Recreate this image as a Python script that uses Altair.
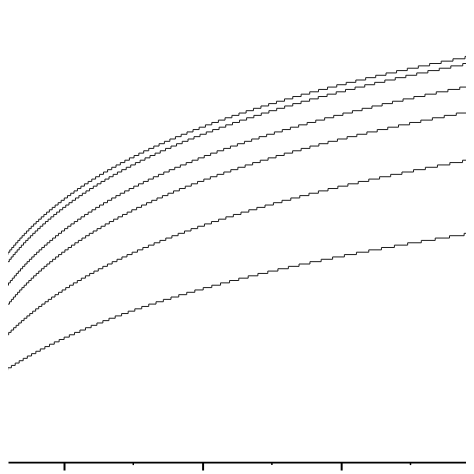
import altair as alt
import pandas as pd

# Step curves: each curve is a cumulative count; the count rises by one at every listed time.
c1_start = 84
c1_times = [10.63, 10.88, 11.13, 11.38, 11.64, 11.91, 12.18, 12.46, 12.75, 13.04, 13.34, 13.64, 13.95, 14.27,
            14.60, 14.93, 15.27, 15.62, 15.98, 16.35, 16.72, 17.10, 17.49, 17.89, 18.30, 18.72, 19.15,
            19.59, 20.04, 20.50, 20.97, 21.45, 21.94, 22.44, 22.95, 23.48, 24.01, 24.56, 25.13, 25.70,
            26.29, 26.89, 27.51, 28.13, 28.78, 29.44, 30.11, 30.80, 31.50, 32.23, 32.96, 33.72, 34.49,
            35.28, 36.08, 36.91, 37.75, 38.62, 39.50, 40.41, 41.33, 42.28, 43.24, 44.23, 45.25, 46.28,
            47.34, 48.42, 49.53, 50.66, 51.82, 53.01, 54.22, 55.46, 56.73, 58.03, 59.36, 60.72, 62.11,
            63.53, 64.98, 66.47, 67.99, 69.54, 71.13, 72.76, 74.43, 76.13, 77.87, 79.65]

c2_start = 80
c2_times = [10.59, 10.83, 11.07, 11.32, 11.58, 11.84, 12.11, 12.38, 12.66, 12.95, 13.24, 13.54, 13.85, 14.16,
            14.48, 14.81, 15.15, 15.49, 15.84, 16.20, 16.56, 16.94, 17.32, 17.71, 18.11, 18.52, 18.94,
            19.37, 19.81, 20.26, 20.72, 21.18, 21.66, 22.15, 22.65, 23.17, 23.69, 24.23, 24.78, 25.34,
            25.91, 26.50, 27.09, 27.71, 28.33, 28.98, 29.63, 30.30, 30.99, 31.69, 32.41, 33.14, 33.89,
            34.65, 35.44, 36.24, 37.06, 37.90, 38.76, 39.63, 40.53, 41.45, 42.38, 43.34, 44.32, 45.33,
            46.35, 47.40, 48.47, 49.57, 50.69, 51.84, 53.01, 54.21, 55.44, 56.69, 57.97, 59.28, 60.62,
            62.00, 63.40, 64.83, 66.30, 67.80, 69.33, 70.90, 72.51, 74.15, 75.82, 77.54, 79.29]

c3_start = 71
c3_times = [10.72, 10.96, 11.21, 11.47, 11.73, 11.99, 12.26, 12.54, 12.83, 13.12, 13.41, 13.72, 14.03, 14.35,
            14.67, 15.01, 15.35, 15.69, 16.05, 16.41, 16.79, 17.17, 17.56, 17.95, 18.36, 18.78, 19.20,
            19.64, 20.08, 20.54, 21.00, 21.48, 21.97, 22.46, 22.97, 23.49, 24.03, 24.57, 25.13, 25.70,
            26.28, 26.88, 27.49, 28.11, 28.75, 29.40, 30.07, 30.75, 31.45, 32.16, 32.89, 33.63, 34.40,
            35.18, 35.98, 36.79, 37.63, 38.48, 39.35, 40.24, 41.16, 42.09, 43.04, 44.02, 45.02, 46.04,
            47.08, 48.15, 49.24, 50.36, 51.50, 52.67, 53.86, 55.08, 56.33, 57.61, 58.92, 60.25, 61.62,
            63.02, 64.44, 65.91, 67.40, 68.93, 70.49, 72.09, 73.72, 75.40, 77.11, 78.86]

c4_start = 62
c4_times = [10.56, 10.81, 11.06, 11.32, 11.58, 11.85, 12.13, 12.41, 12.70, 12.99, 13.30, 13.61, 13.92, 14.25,
            14.58, 14.92, 15.27, 15.62, 15.99, 16.36, 16.74, 17.13, 17.53, 17.94, 18.36, 18.79, 19.22,
            19.67, 20.13, 20.60, 21.08, 21.57, 22.07, 22.59, 23.12, 23.65, 24.21, 24.77, 25.35, 25.94,
            26.54, 27.16, 27.79, 28.44, 29.11, 29.78, 30.48, 31.19, 31.91, 32.66, 33.42, 34.20, 35.00,
            35.81, 36.65, 37.50, 38.37, 39.27, 40.18, 41.12, 42.08, 43.06, 44.07, 45.09, 46.14, 47.22,
            48.32, 49.45, 50.60, 51.78, 52.99, 54.22, 55.49, 56.78, 58.10, 59.46, 60.85, 62.26, 63.71,
            65.20, 66.72, 68.27, 69.87, 71.49, 73.16, 74.87, 76.61, 78.40]

c5_start = 51
c5_times = [10.70, 11.02, 11.35, 11.68, 12.02, 12.37, 12.73, 13.09, 13.47, 13.85, 14.24, 14.65, 15.06, 15.48,
            15.91, 16.35, 16.80, 17.26, 17.73, 18.21, 18.70, 19.21, 19.73, 20.25, 20.80, 21.35, 21.92,
            22.50, 23.09, 23.70, 24.32, 24.95, 25.60, 26.27, 26.95, 27.65, 28.36, 29.09, 29.83, 30.60,
            31.38, 32.18, 33.00, 33.84, 34.69, 35.57, 36.47, 37.39, 38.33, 39.29, 40.27, 41.28, 42.31,
            43.36, 44.44, 45.54, 46.67, 47.83, 49.01, 50.22, 51.46, 52.73, 54.02, 55.35, 56.71, 58.10,
            59.52, 60.97, 62.46, 63.98, 65.54, 67.14, 68.77, 70.44, 72.15, 73.89, 75.68, 77.51, 79.39]

c6_start = 37
c6_times = [10.33, 10.83, 11.35, 11.87, 12.41, 12.96, 13.53, 14.11, 14.71, 15.32, 15.94, 16.58, 17.24, 17.91,
            18.60, 19.30, 20.02, 20.77, 21.52, 22.30, 23.10, 23.92, 24.75, 25.61, 26.49, 27.39, 28.31,
            29.26, 30.22, 31.22, 32.23, 33.28, 34.34, 35.44, 36.56, 37.71, 38.88, 40.09, 41.33, 42.59,
            43.89, 45.22, 46.58, 47.98, 49.41, 50.87, 52.38, 53.92, 55.49, 57.11, 58.76, 60.46, 62.20,
            63.98, 65.81, 67.68, 69.59, 71.56, 73.57, 75.63, 77.74, 79.91]

major_ticks = [20, 40, 60]
minor_ticks = [30, 50, 70]
x_domain = [11.92, 78.01]
y_domain = [0, 190.83]

curves = [("c1", c1_start, c1_times), ("c2", c2_start, c2_times), ("c3", c3_start, c3_times),
          ("c4", c4_start, c4_times), ("c5", c5_start, c5_times), ("c6", c6_start, c6_times)]
rows = []
for name, start, times in curves:
    for i, t in enumerate(times):
        rows.append({"curve": name, "t": t, "n": start + i})
df = pd.DataFrame(rows)

lines = alt.Chart(df).mark_line(
    interpolate="step-after", color="#1a1a1a", strokeWidth=1, clip=True
).encode(
    x=alt.X("t:Q", scale=alt.Scale(domain=x_domain, nice=False, zero=False),
            axis=alt.Axis(values=major_ticks, labels=False, title=None, grid=False,
                          domainColor="black", domainWidth=2, tickColor="black",
                          tickWidth=2, tickSize=8)),
    y=alt.Y("n:Q", scale=alt.Scale(domain=y_domain, nice=False), axis=None),
    detail="curve:N",
)

minor = alt.Chart(pd.DataFrame({"t": minor_ticks})).mark_rule(
    color="black", strokeWidth=1.5
).encode(
    x="t:Q",
    y=alt.value(458),
    y2=alt.value(461),
)

chart = alt.layer(lines, minor).properties(
    width=466, height=458, padding={"left": 0, "top": 0, "right": 0, "bottom": 0}
).configure_view(strokeWidth=0)

chart.save("out.html", embed_options={"renderer": "svg", "actions": False})
